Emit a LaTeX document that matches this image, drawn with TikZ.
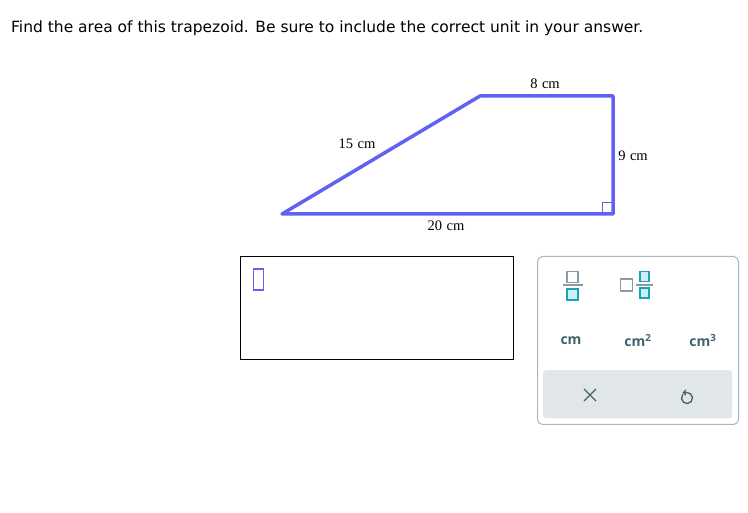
\documentclass[tikz,border=0pt]{standalone}
\usepackage{fontspec}
\setmainfont{DejaVu Sans}
\newfontfamily\labfont{Liberation Serif}
\newfontfamily\keyfont{Open Sans}
\usetikzlibrary{arrows.meta,calc}
\definecolor{trap}{HTML}{6262F2}
\definecolor{keytext}{HTML}{44616D}
\definecolor{panelborder}{HTML}{A9B8BF}
\definecolor{barfill}{HTML}{E1E7E9}
\definecolor{sqfill}{HTML}{CDEFF3}
\definecolor{sqedge}{HTML}{1EA2B8}
\definecolor{sqgray}{HTML}{8A9BA3}
\tikzset{
  edge/.style={draw=trap, line width=3.5pt, line join=round},
  lab/.style={font=\labfont\fontsize{14.5}{16}\selectfont, inner sep=0pt},
  keylab/.style={font=\keyfont\bfseries\fontsize{14}{16}\selectfont, text=keytext, inner sep=0pt},
  emptysq/.style={draw=sqgray, line width=1.5pt, fill=white},
  fillsq/.style={draw=sqedge, line width=1.5pt, fill=sqfill},
}
\begin{document}
\begin{tikzpicture}[x=1pt,y=-1pt]
\useasboundingbox[fill=white] (0,0) rectangle (748,513);
% title
\node[anchor=west, inner sep=0pt, font=\fontsize{15.5}{17}\selectfont] (title) at (11,28) {Find the area of this trapezoid. Be sure to include the correct unit in your answer.};
% trapezoid
\coordinate (A) at (282,214);
\coordinate (B) at (480,96);
\coordinate (C) at (613,96);
\coordinate (D) at (613,214);
\draw[edge] (A) -- (B) -- (C) -- (D) -- cycle;
\draw[draw=trap, line width=1pt] (602,214) -- (602,203) -- (613,203);
\node[lab] (l8) at (545,84) {8\hspace{4.5pt}cm};
\node[lab] (l15) at (357,144) {15\hspace{4.5pt}cm};
\node[lab] (l9) at (633,156) {9\hspace{4.5pt}cm};
\node[lab] (l20) at (446,226) {20\hspace{4.5pt}cm};
% answer box
\node[draw=black, line width=1.3pt, minimum width=273pt, minimum height=103pt, anchor=north west, inner sep=0pt] (ans) at (240,256) {};
\node[draw=trap, line width=1.3pt, minimum width=10pt, minimum height=21pt, anchor=north west, inner sep=0pt] (cursor) at (252.5,268.5) {};
% keypad panel
\node[draw=panelborder, line width=1pt, rounded corners=5pt, minimum width=201pt, minimum height=168pt, anchor=north west, inner sep=0pt] (panel) at (537,256) {};
\node[fill=barfill, rounded corners=3pt, minimum width=189pt, minimum height=48pt, anchor=north west, inner sep=0pt] (bar) at (543,370) {};
% fraction icon
\node[emptysq, minimum width=11pt, minimum height=11pt, inner sep=0pt] (f1t) at (572.5,277) {};
\node[fillsq, minimum width=11pt, minimum height=11pt, inner sep=0pt] (f1b) at (572.5,294.5) {};
\draw[draw=sqgray, line width=1.5pt] (563,285) -- (583,285);
% mixed fraction icon
\node[emptysq, minimum width=12pt, minimum height=12pt, inner sep=0pt] (m1) at (626.5,285) {};
\node[fillsq, minimum width=9pt, minimum height=10pt, inner sep=0pt] (m2t) at (644.5,276.5) {};
\node[fillsq, minimum width=9pt, minimum height=10pt, inner sep=0pt] (m2b) at (644.5,293) {};
\draw[draw=sqgray, line width=1.5pt] (636,285) -- (653,285);
% unit keys
\node[keylab] (cm1) at (571,341) {cm};
\node[keylab] (cm2) at (638,340.5) {cm\textsuperscript{2}};
\node[keylab] (cm3) at (703,340.5) {cm\textsuperscript{3}};
% clear and undo
\coordinate (xc) at (590,395);
\draw[keytext, line width=1.3pt] ($(xc)+(-6,-6)$) -- ($(xc)+(6,6)$) ($(xc)+(-6,6)$) -- ($(xc)+(6,-6)$);
\coordinate (uc) at (687,398);
\draw[keytext, line width=1.3pt, line cap=round, -{Straight Barb[length=2.5pt,width=5pt]}] (682.8,394.5) arc[start angle=-140, end angle=-450, radius=5.5] -- ++(-4.5,0);
\end{tikzpicture}
\end{document}
